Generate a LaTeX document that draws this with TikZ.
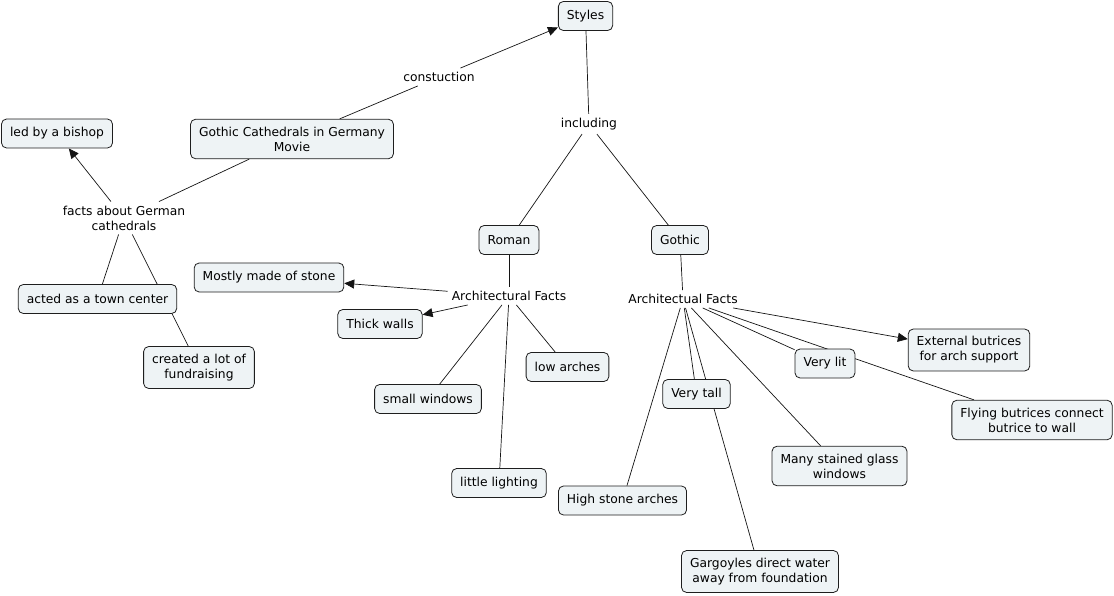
\documentclass[tikz,border=0pt]{standalone}
\usepackage{fontspec}
\setmainfont{DejaVu Sans}
\usetikzlibrary{arrows.meta,backgrounds}
\definecolor{boxfill}{RGB}{238,243,245}
\definecolor{boxline}{RGB}{30,30,30}
\definecolor{linkcol}{RGB}{20,20,20}
\begin{document}
\begin{tikzpicture}[x=1pt,y=-1pt,
  concept/.style={draw=boxline, fill=boxfill, rounded corners=5pt,
    font=\fontsize{12.3}{15}\selectfont, align=center,
    inner xsep=8.5pt, inner ysep=7.5pt, minimum height=29pt, line width=0.8pt},
  phrase/.style={font=\fontsize{12.3}{15}\selectfont, align=center, inner sep=4pt},
  link/.style={draw=linkcol, line width=0.7pt},
  arr/.style={link, -{Triangle[length=10pt,width=9pt]}}
]
\useasboundingbox (0,0) rectangle (1114,596);
% concepts
\node[concept] (styles) at (585.5,16) {Styles};
\node[concept] (movie) at (292,139) {Gothic Cathedrals in Germany\\Movie};
\node[concept] (bishop) at (57,133.5) {led by a bishop};
\node[concept] (town) at (97.5,299) {acted as a town center};
\node[concept] (fund) at (199,367.5) {created a lot of\\fundraising};
\node[concept] (roman) at (509,240) {Roman};
\node[concept] (gothic) at (680,240) {Gothic};
\node[concept] (stone) at (269,277.5) {Mostly made of stone};
\node[concept] (thick) at (380,324) {Thick walls};
\node[concept] (smallw) at (428,399) {small windows};
\node[concept] (low) at (567.5,367) {low arches};
\node[concept] (lighting) at (499,483) {little lighting};
\node[concept] (tall) at (696.5,394) {Very tall};
\node[concept] (high) at (622.5,500.5) {High stone arches};
\node[concept] (garg) at (760,571.5) {Gargoyles direct water\\away from foundation};
\node[concept] (glass) at (839.5,466) {Many stained glass\\windows};
\node[concept] (lit) at (825,363.5) {Very lit};
\node[concept] (ext) at (969,350) {External butrices\\for arch support};
\node[concept] (fly) at (1032,420) {Flying butrices connect\\butrice to wall};
% linking phrases
\node[phrase] (cons) at (439,77) {constuction};
\node[phrase] (facts) at (124,218) {facts about German\\cathedrals};
\node[phrase] (incl) at (589,124) {including};
\node[phrase] (rfacts) at (509,296) {Architectural Facts};
\node[phrase] (gfacts) at (683,299) {Architectual Facts};
% connectors
\begin{scope}[on background layer]
\draw[link] (movie) -- (cons);
\draw[arr] (cons) -- (styles);
\draw[link] (facts) -- (movie);
\draw[arr] (facts) -- (bishop);
\draw[link] (facts) -- (town);
\draw[link] (facts) -- (fund);
\draw[link] (styles) -- (incl);
\draw[link] (incl) -- (roman);
\draw[link] (incl) -- (gothic);
\draw[link] (roman) -- (rfacts);
\draw[arr] (rfacts) -- (stone);
\draw[arr] (rfacts) -- (thick);
\draw[link] (rfacts) -- (smallw);
\draw[link] (rfacts) -- (lighting);
\draw[link] (rfacts) -- (low);
\draw[link] (gothic) -- (gfacts);
\draw[arr] (gfacts) -- (ext);
\draw[link] (gfacts) -- (tall);
\draw[link] (gfacts) -- (garg);
\draw[link] (gfacts) -- (high);
\draw[link] (gfacts) -- (glass);
\draw[link] (gfacts) -- (lit);
\draw[link] (gfacts) -- (fly);
\end{scope}
\end{tikzpicture}
\end{document}
